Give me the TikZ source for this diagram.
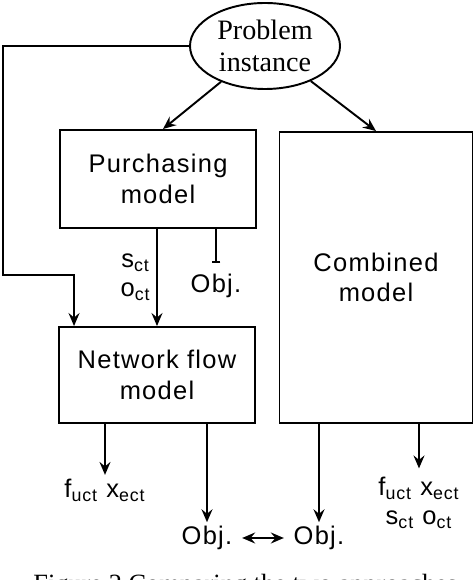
\documentclass[tikz,border=0pt]{standalone}
\usepackage{fontspec}
\setmainfont{Liberation Serif}
\newfontfamily\diagsans[LetterSpace=5]{Liberation Sans}
\usetikzlibrary{arrows.meta,positioning,shapes.geometric}

\begin{document}
\begin{tikzpicture}[
  box/.style={draw, line width=1.1pt, align=center, inner sep=0pt,
    font=\fontsize{14.5}{17.5}\selectfont\diagsans},
  lbl/.style={align=center, inner sep=2pt,
    font=\fontsize{14.5}{16.5}\selectfont\diagsans},
  link/.style={-{Stealth[length=2.6mm, width=2.2mm, inset=0.9mm]}, line width=1.1pt},
  both/.style={{Stealth[length=2.6mm, width=2.2mm, inset=0.9mm]}-{Stealth[length=2.6mm, width=2.2mm, inset=0.9mm]}, line width=1.1pt}
]
\clip (0,0) rectangle (9.48,11.6);
\node[draw, ellipse, line width=1.1pt, minimum width=3.0cm, minimum height=1.72cm,
  inner sep=0pt, align=center, font=\fontsize{16}{18.5}\selectfont] (problem)
  at (5.30,10.68) {Problem\\instance};
\node[box, minimum width=3.92cm, minimum height=1.96cm] (purch)
  at (3.16,8.02) {Purchasing\\model};
\node[box, minimum width=3.92cm, minimum height=1.92cm] (net)
  at (3.14,4.10) {Network flow\\model};
\node[box, minimum width=3.86cm, minimum height=5.82cm] (comb)
  at (7.52,6.05) {Combined\\model};
% outputs
\node[lbl] (objp) at (4.32,5.88) {Obj.};
\node[lbl] (flow) at (2.10,1.80) {f\textsubscript{uct} x\textsubscript{ect}};
\node[lbl] (objn) at (4.14,0.84) {Obj.};
\node[lbl] (objc) at (6.38,0.84) {Obj.};
\node[lbl] (full) at (8.38,1.54) {f\textsubscript{uct} x\textsubscript{ect}\\s\textsubscript{ct} o\textsubscript{ct}};
\coordinate (back) at (0.06,6.10);
\draw[link] (problem) -- ([xshift=0.1cm]purch.north);
\draw[link] (problem) -- (comb.north);
\draw[link] (problem.west) -| (back) -| ([xshift=0.32cm]net.north west);
\draw[link] (purch.south -| net.north) -- (net.north)
  node[lbl, midway, left, xshift=-0.04cm] {s\textsubscript{ct}\\o\textsubscript{ct}};
\draw[-{Bar[width=1.7mm]}, line width=1.1pt] (purch.south -| objp.north) -- ([yshift=0.14cm]objp.north);
\draw[link] (net.south -| flow.north) -- (flow.north);
\draw[link] (net.south -| objn.north) -- (objn.north);
\draw[link] (comb.south -| objc.north) -- (objc.north);
\draw[link] (comb.south -| full.north) -- ([yshift=0.1cm]full.north);
\draw[both, shorten <=0.12cm, shorten >=0.12cm] (objn) -- (objc);
\node[anchor=base west, inner sep=0pt, font=\fontsize{15}{17}\selectfont] (caption)
  at (0.66,-0.26) {Figure 2 Comparing the two approaches};
\end{tikzpicture}
\end{document}
